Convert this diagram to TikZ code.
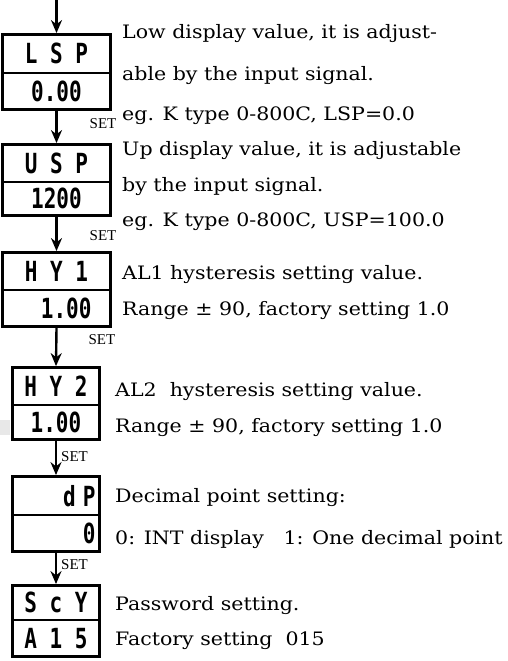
\documentclass[tikz,border=0pt]{standalone}
\usepackage{fontspec}
\setmainfont{DejaVu Serif}[FakeStretch=1.11]
\newfontfamily\lcdfont{DejaVu Sans Mono}
\newfontfamily\setfont{Liberation Serif}
\usetikzlibrary{arrows.meta,positioning}
\newcommand{\lcd}[1]{\scalebox{1}[1.32]{\lcdfont\bfseries #1}}

\tikzset{
  disp/.style={draw, line width=2.8pt, inner sep=2pt, font=\fontsize{21}{21}\selectfont},
  wide/.style={minimum width=108pt},
  narrow/.style={minimum width=87pt},
  info/.style={anchor=base west, inner sep=0pt, font=\fontsize{18.5}{20}\selectfont},
  setlbl/.style={font=\setfont\fontsize{15}{15}\selectfont, inner sep=0pt},
  flow/.style={-{Stealth[length=13pt,width=11pt]}, line width=2.4pt},
}

\begin{document}
\begin{tikzpicture}[x=1pt,y=-1pt]
  \useasboundingbox (0,0) rectangle (507,661);
  \fill[black!9] (0,420) rectangle (10,435);
  % display boxes
  \node[disp, wide, minimum height=38.5pt] (lsp) at (56.5,53.75) {\lcd{L S P}};
  \node[disp, wide, minimum height=36.5pt] (lspval) at (56.5,91.25) {\lcd{0.00}};
  \node[disp, wide, minimum height=37.5pt] (usp) at (56.5,163.25) {\lcd{U S P}};
  \node[disp, wide, minimum height=33.5pt] (uspval) at (56.5,198.75) {\lcd{1200}};
  \node[disp, wide, minimum height=37.5pt] (hya) at (56.5,271.25) {\lcd{H Y 1}};
  \node[disp, wide, minimum height=36.5pt, text width=70pt, align=right] (hyaval) at (56.5,308.25) {\lcd{1.00}};
  \node[disp, narrow, minimum height=37.5pt] (hyb) at (56,386.25) {\lcd{H Y 2}};
  \node[disp, narrow, minimum height=34.5pt] (hybval) at (56,422.25) {\lcd{1.00}};
  \node[disp, narrow, minimum height=38.5pt, text width=79pt, align=right] (dp) at (56,495.75) {\lcd{d P}};
  \node[disp, narrow, minimum height=36.5pt, text width=79pt, align=right] (dpval) at (56,533.25) {\lcd{0}};
  \node[disp, narrow, minimum height=34.5pt] (pwd) at (56,602.75) {\lcd{S c Y}};
  \node[disp, narrow, minimum height=36.5pt] (pwdval) at (56,638.25) {\lcd{A 1 5}};
  % flow
  \coordinate (entry) at (56.5,0);
  \draw[flow] (entry) -- (lsp.north);
  \draw[flow] (lspval.south) -- node[setlbl, pos=0.4, right=32pt]{SET} (usp.north);
  \draw[flow] (uspval.south) -- node[setlbl, pos=0.55, right=32pt]{SET} (hya.north);
  \draw[flow] (hyaval.south) -- node[setlbl, pos=0.3, right=31pt]{SET} (hyb.north);
  \draw[flow] (hybval.south) -- node[setlbl, pos=0.45, right=4pt]{SET} (dp.north);
  \draw[flow] (dpval.south) -- node[setlbl, pos=0.37, right=4pt]{SET} (pwd.north);
  % notes
  \node[info] (lspnote) at (122,39) {Low display value, it is adjust-};
  \node[info] (lspnoteb) at (122,81) {able by the input signal.};
  \node[info] (lspnotec) at (122,120) {eg. K type 0-800C, LSP=0.0};
  \node[info] (uspnote) at (122,155) {Up display value, it is adjustable};
  \node[info] (uspnoteb) at (122,191) {by the input signal.};
  \node[info] (uspnotec) at (122,226) {eg. K type 0-800C, USP=100.0};
  \node[info] (hyanote) at (122,279) {AL1 hysteresis setting value.};
  \node[info] (hyanoteb) at (122,315) {Range ± 90, factory setting 1.0};
  \node[info] (hybnote) at (115,396) {AL2\ \ hysteresis setting value.};
  \node[info] (hybnoteb) at (115,432) {Range ± 90, factory setting 1.0};
  \node[info] (dpnote) at (115,502) {Decimal point setting:};
  \node[info] (dpnoteb) at (115,544) {0: INT display\ \ \ 1: One decimal point};
  \node[info] (pwdnote) at (115,610) {Password setting.};
  \node[info] (pwdnoteb) at (115,645) {Factory setting\ \ 015};
\end{tikzpicture}
\end{document}
